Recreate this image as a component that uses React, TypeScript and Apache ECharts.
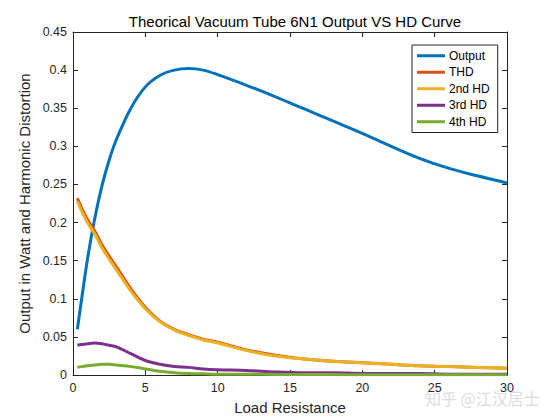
import React, { useEffect, useRef } from "react";
import * as echarts from "echarts";

const loadResistance = [0.3, 0.6, 1, 1.5, 2, 2.5, 3, 4, 5, 6, 7, 8, 9, 10, 12, 14, 16, 18, 20, 22, 24, 26, 28, 30];
const outputW = [0.060, 0.100, 0.152, 0.205, 0.248, 0.282, 0.309, 0.350, 0.378, 0.393, 0.400, 0.402, 0.400, 0.394, 0.380, 0.365, 0.349, 0.333, 0.317, 0.300, 0.284, 0.271, 0.261, 0.252];
const thd = [0.232, 0.219, 0.204, 0.189, 0.171, 0.156, 0.142, 0.113, 0.089, 0.071, 0.060, 0.053, 0.047, 0.043, 0.033, 0.026, 0.021, 0.018, 0.016, 0.014, 0.012, 0.011, 0.010, 0.009];
const hd2 = [0.228, 0.215, 0.200, 0.185, 0.167, 0.152, 0.138, 0.110, 0.087, 0.070, 0.059, 0.052, 0.046, 0.042, 0.032, 0.025, 0.021, 0.018, 0.016, 0.014, 0.012, 0.011, 0.010, 0.009];
const hd3 = [0.039, 0.040, 0.041, 0.042, 0.041, 0.039, 0.037, 0.028, 0.019, 0.014, 0.011, 0.010, 0.008, 0.007, 0.006, 0.004, 0.003, 0.003, 0.002, 0.002, 0.002, 0.001, 0.001, 0.001];
const hd4 = [0.010, 0.011, 0.012, 0.013, 0.014, 0.014, 0.013, 0.011, 0.008, 0.005, 0.003, 0.002, 0.0015, 0.001, 0.001, 0.0008, 0.0006, 0.0005, 0.0004, 0.0004, 0.0003, 0.0003, 0.0003, 0.0003];

const seriesNames = ["Output", "THD", "2nd HD", "3rd HD", "4th HD"];
const seriesValues = [outputW, thd, hd2, hd3, hd4];
const seriesColors = ["#0072BD", "#D95319", "#EDB120", "#7E2F8E", "#77AC30"];

const titleText = "Theorical Vacuum Tube 6N1 Output VS HD Curve";
const xLabel = "Load Resistance";
const yLabel = "Output in Watt and Harmonic Distortion";
const watermark = "知乎 @江汉居士";

const FONT = "'Liberation Sans', Arial, Helvetica, sans-serif";
const AX = "#262626";

export default function App() {
  const ref = useRef<HTMLDivElement>(null);
  useEffect(() => {
    document.body.style.margin = "0";
    const chart = echarts.init(ref.current!, null, { renderer: "svg" });
    const axisCommon = {
      axisLine: { show: true, onZero: false, lineStyle: { color: AX, width: 1 } },
      axisTick: { show: true, inside: true, length: 5, lineStyle: { color: AX } },
      splitLine: { show: false },
    };
    chart.setOption({
      animation: false,
      backgroundColor: "#ffffff",
      title: {
        text: titleText,
        left: 290,
        textAlign: "center",
        top: 9,
        textStyle: { fontFamily: FONT, fontSize: 15, fontWeight: "normal", color: "#000" },
      },
      legend: {
        orient: "vertical",
        left: 412,
        top: 45,
        width: 83,
        padding: [4, 8, 4, 5],
        borderColor: "#262626",
        borderWidth: 1,
        backgroundColor: "#fff",
        icon: "rect",
        itemWidth: 28,
        itemHeight: 3,
        itemGap: 3,
        textStyle: { fontFamily: FONT, fontSize: 12, color: "#000", lineHeight: 13.5, padding: [0, 0, 0, -1] },
        data: seriesNames,
      },
      grid: { left: 73, right: 53, top: 32, bottom: 45, containLabel: false },
      xAxis: [
        {
          type: "value",
          min: 0,
          max: 30,
          interval: 5,
          name: xLabel,
          nameLocation: "middle",
          nameGap: 25,
          nameTextStyle: { fontFamily: FONT, fontSize: 15, color: AX },
          axisLabel: { fontFamily: FONT, fontSize: 12.5, color: AX, margin: 6 },
          ...axisCommon,
        },
        {
          type: "value",
          position: "top",
          min: 0,
          max: 30,
          interval: 5,
          axisLabel: { show: false },
          ...axisCommon,
        },
      ],
      yAxis: [
        {
          type: "value",
          min: 0,
          max: 0.45,
          interval: 0.05,
          name: yLabel,
          nameLocation: "middle",
          nameGap: 36,
          nameTextStyle: { fontFamily: FONT, fontSize: 15, color: AX },
          axisLabel: { fontFamily: FONT, fontSize: 12.5, color: AX, margin: 6 },
          ...axisCommon,
        },
        {
          type: "value",
          position: "right",
          min: 0,
          max: 0.45,
          interval: 0.05,
          axisLabel: { show: false },
          ...axisCommon,
        },
      ],
      series: seriesNames.map((name, i) => ({
        name,
        type: "line",
        xAxisIndex: 0,
        yAxisIndex: 0,
        smooth: 0.35,
        showSymbol: false,
        symbol: "none",
        color: seriesColors[i],
        lineStyle: { width: 3, color: seriesColors[i] },
        data: loadResistance.map((x, j) => [x, seriesValues[i][j]]),
      })),
      graphic: [
        {
          type: "text",
          left: 425,
          top: 390,
          style: {
            text: watermark,
            fontFamily: "'Noto Sans CJK SC', sans-serif",
            fontSize: 16,
            fill: "#dcdcdc",
          },
        },
      ],
    });
    return () => chart.dispose();
  }, []);
  return <div ref={ref} style={{ width: 560, height: 420, position: "absolute", left: 0, top: 0 }} />;
}
